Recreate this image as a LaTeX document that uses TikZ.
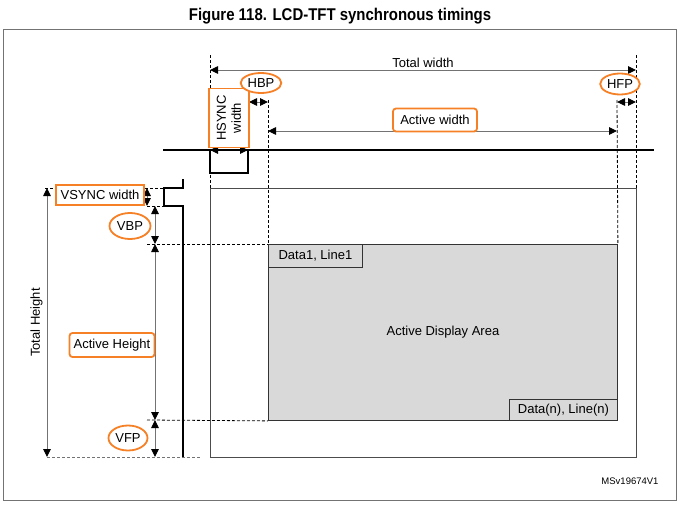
\documentclass[tikz,border=0pt]{standalone}
\usepackage{fontspec}
\setmainfont{Liberation Sans}
\newfontfamily\titlefont[FakeStretch=0.88]{Liberation Sans}
\usetikzlibrary{arrows.meta}
\usetikzlibrary{shapes}
\usetikzlibrary{positioning}
\definecolor{storange}{RGB}{245,128,37}
\definecolor{areagray}{RGB}{217,217,217}

\begin{document}
\begin{tikzpicture}[x=1pt,y=-1pt,
	every node/.style={font=\fontsize{13}{15}\selectfont, inner sep=1pt},
	tag/.style={draw=storange,line width=1.8pt,fill=white,inner sep=1pt},
	oval/.style={tag,ellipse},
	span/.style={{Triangle[length=8pt,width=7.5pt,color=black]}-{Triangle[length=8pt,width=7.5pt,color=black]},black!55,line width=0.9pt},
	guide/.style={dashed,dash pattern=on 3pt off 2pt,black,line width=0.8pt},
	wave/.style={black,line width=1.3pt}]
	\useasboundingbox (0,0) rectangle (681,506);
	
	\node[font=\titlefont\bfseries\fontsize{17}{19}\selectfont] (title) at (340,16) {Figure 118. LCD-TFT synchronous timings};
	\draw[black!55,line width=1pt] (3,29) rectangle (676,500);
	
	% timing points
	\coordinate (hsA) at (210,55);   \coordinate (hsB) at (636,55);
	\coordinate (fTL) at (210,188);  \coordinate (fBR) at (636,457);
	\coordinate (hbp) at (268,100);  \coordinate (hfp) at (617,100);
	
	% display frame and active area
	\draw[black!70,line width=0.9pt] (fTL) rectangle (fBR);
	\node[draw=black!80,fill=areagray,line width=0.9pt,anchor=north west,
		minimum width=349pt,minimum height=176pt] (area) at (268,244) {Active Display Area};
	\node[draw=black!80,fill=areagray,line width=0.9pt,anchor=north west,
		minimum width=94pt,minimum height=23pt] (first) at (area.north west) {Data1, Line1};
	\node[draw=black!80,fill=areagray,line width=0.9pt,anchor=south east,
		minimum width=108pt,minimum height=21pt] (last) at (area.south east) {Data(n), Line(n)};
	
	% guides
	\draw[guide] (hsA) -- (fTL);
	\draw[guide] (hsB) -- (fTL -| hsB);
	\draw[guide] (hbp) -- (area.north west);
	\draw[guide] (hfp) -- (area.north east);
	\draw[guide] (45,188) -- (164,188);
	\draw[guide] (147,206) -- (164,206);
	\draw[guide] (147,244) -- (area.north west);
	\draw[guide] (147,420) -- (area.south west);
	\draw[guide,black!55] (47,457) -- (200,457);
	
	% horizontal timing
	\coordinate (hsE) at (248,150);
	\draw[span] (210,150) -- (hsE);
	\draw[wave] (210,150) -- (210,173) -| (hsE);
	\draw[black,line width=1.9pt] (163,150) -- (654,150);
	\draw[span] (hsA |- 0,70) -- (hsB |- 0,70) node[midway,above=1pt,black] (tw) {Total width};
	\draw[span] (249,102) -- (hbp |- 0,102);
	\draw[span] (hfp |- 0,102) -- (636,102);
	\draw[span] (hbp |- 0,131) -- (hfp |- 0,131);
	
	% vertical timing
	\draw[wave] (183,179) -- (183,188) -| (164,206) -| (183,457);
	\draw[span] (47,188) -- (47,457) node[midway,left=3pt,rotate=90,anchor=south,black] (th) {Total Height};
	\draw[span] (147,188) -- (147,206);
	\draw[span] (155,206) -- (155,244);
	\draw[span] (155,244) -- (155,420);
	\draw[span] (155,420) -- (155,457);
	
	% labels
	\node[tag,rotate=90,align=center,minimum width=59pt,minimum height=40pt] (hsw) at (229,118) {HSYNC\\width};
	\node[oval,minimum width=38pt,minimum height=20pt] (hbpl) at (261,83) {HBP};
	\node[oval,minimum width=38pt,minimum height=21pt] (hfpl) at (620,84) {HFP};
	\node[tag,rounded corners=3pt,minimum width=84pt,minimum height=23pt] (aw) at (435,120) {Active width};
	\node[tag,minimum width=88pt,minimum height=20pt] (vsw) at (100,195) {VSYNC width};
	\node[oval,minimum width=41pt,minimum height=26pt] (vbpl) at (130,226) {VBP};
	\node[tag,rounded corners=3pt,minimum width=85pt,minimum height=24pt] (ah) at (112,345) {Active Height};
	\node[oval,minimum width=39pt,minimum height=25pt] (vfpl) at (128,438) {VFP};
	\node[font=\fontsize{9.5}{11}\selectfont] (ref) at (630,481) {MSv19674V1};
\end{tikzpicture}
\end{document}
